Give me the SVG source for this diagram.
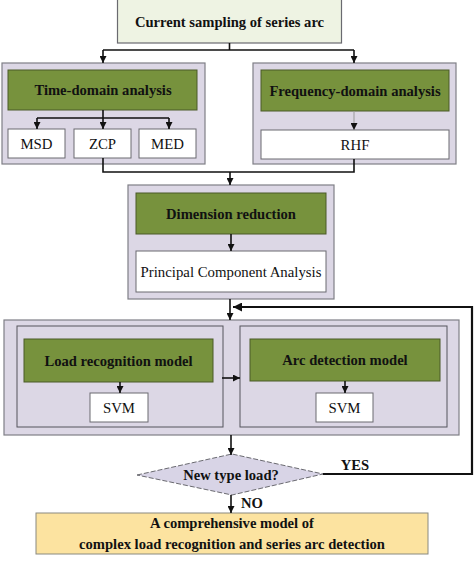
<svg xmlns="http://www.w3.org/2000/svg" width="474" height="579" viewBox="0 0 474 579">
<style>
.cont{fill:#dcd7e5;stroke:#7f7f86;stroke-width:1.2}
.inner{fill:#dcd7e5;stroke:#55555c;stroke-width:1}
.green{fill:#77923d;stroke:#4a5a28;stroke-width:1}
.white{fill:#ffffff;stroke:#6a6a70;stroke-width:1}
.tb{font-family:"Liberation Serif","Times New Roman",serif;font-weight:bold;font-size:14.6px;fill:#111;text-anchor:middle;dominant-baseline:central}
.tr{font-family:"Liberation Serif","Times New Roman",serif;font-size:14.8px;fill:#111;text-anchor:middle;dominant-baseline:central}
.ln{fill:none;stroke:#111;stroke-width:1.6}
.thick{fill:none;stroke:#111;stroke-width:2.2}
</style>
<defs>
<marker id="ah" viewBox="0 0 10 10" refX="10" refY="5" markerWidth="7" markerHeight="7" orient="auto" markerUnits="userSpaceOnUse">
<path d="M0,0 L10,5 L0,10 z" fill="#111"/>
</marker>
<marker id="ah2" viewBox="0 0 10 10" refX="10" refY="5" markerWidth="9" markerHeight="9" orient="auto" markerUnits="userSpaceOnUse">
<path d="M0,0 L10,5 L0,10 z" fill="#111"/>
</marker>
</defs>
<rect width="474" height="579" fill="#ffffff"/>

<g id="current-sampling">
<rect x="117.5" y="-1" width="224" height="44" fill="#eef3e3" stroke="#6a6a70" stroke-width="1.2"/>
<text class="tb" x="229.5" y="22">Current sampling of series arc</text>
</g>

<g id="time-domain">
<rect class="cont" x="2" y="63" width="203" height="101"/>
<rect class="green" x="8" y="70" width="189" height="40"/>
<text class="tb" x="103" y="90">Time-domain analysis</text>
</g>
<g id="msd"><rect class="white" x="8" y="129" width="57" height="29"/><text class="tr" x="36.5" y="143.5">MSD</text></g>
<g id="zcp"><rect class="white" x="74" y="129" width="57" height="29"/><text class="tr" x="102.5" y="143.5">ZCP</text></g>
<g id="med"><rect class="white" x="139" y="129" width="57" height="29"/><text class="tr" x="167.5" y="143.5">MED</text></g>

<g id="freq-domain">
<rect class="cont" x="253" y="63" width="203" height="101"/>
<rect class="green" x="261" y="70" width="188" height="41"/>
<text class="tb" x="355" y="91">Frequency-domain analysis</text>
</g>
<g id="rhf"><rect class="white" x="261" y="130" width="188" height="29"/><text class="tr" x="355" y="144.5">RHF</text></g>

<g id="dimension">
<rect class="cont" x="128" y="185" width="206" height="114"/>
<rect class="green" x="136" y="193" width="190" height="41"/>
<text class="tb" x="231" y="213.5">Dimension reduction</text>
</g>
<g id="pca"><rect class="white" x="136" y="251" width="190" height="41"/><text class="tr" x="231" y="272">Principal Component Analysis</text></g>

<g id="models">
<rect class="cont" x="4" y="320" width="455" height="115"/>
</g>
<g id="load-recognition">
<rect class="inner" x="17" y="326" width="206" height="101"/>
<rect class="green" x="24" y="339" width="189" height="43"/>
<text class="tb" x="118.5" y="360.5">Load recognition model</text>
</g>
<g id="svm1"><rect class="white" x="90" y="393" width="58" height="29"/><text class="tr" x="119" y="407.5">SVM</text></g>
<g id="arc-detection">
<rect class="inner" x="240" y="326" width="207" height="101"/>
<rect class="green" x="250" y="339" width="190" height="42"/>
<text class="tb" x="345" y="360">Arc detection model</text>
</g>
<g id="svm2"><rect class="white" x="316" y="393" width="57" height="29"/><text class="tr" x="344.5" y="407.5">SVM</text></g>

<g id="decision">
<polygon points="137,475 232,454 323,474 232,495" fill="#d8d4e6" stroke="#6a6a70" stroke-width="1" stroke-dasharray="5,2"/>
<text class="tb" x="231" y="475">New type load?</text>
</g>

<g id="final">
<rect x="36" y="513" width="392" height="41" fill="#fce3a0" stroke="#8a8a80" stroke-width="1"/>
<text class="tb" x="232" y="522.5">A comprehensive model of</text>
<text class="tb" x="232" y="544">complex load recognition and series arc detection</text>
</g>

<g id="connectors">
<path class="ln" d="M229.5,43 V50 M103,50 H354"/>
<path class="ln" d="M103,50 V63" marker-end="url(#ah)"/>
<path class="ln" d="M354,50 V63" marker-end="url(#ah)"/>
<path class="ln" d="M103,110 V118 M37,118 H169"/>
<path class="ln" d="M37,118 V129" marker-end="url(#ah)"/>
<path class="ln" d="M103,118 V129" marker-end="url(#ah)"/>
<path class="ln" d="M169,118 V129" marker-end="url(#ah)"/>
<path d="M354,111 V130" fill="none" stroke="#999" stroke-width="1" marker-end="url(#ah)"/>
<path class="ln" d="M103,158 V172 H354 V159"/>
<path class="ln" d="M230,172 V185" marker-end="url(#ah)"/>
<path class="ln" d="M231,234 V251" marker-end="url(#ah)"/>
<path class="ln" d="M230,299 V320" marker-end="url(#ah)"/>
<path class="ln" d="M120,382 V393" marker-end="url(#ah)"/>
<path class="ln" d="M345,381 V393" marker-end="url(#ah)"/>
<path class="ln" d="M222,378 H240" marker-end="url(#ah)"/>
<path class="ln" d="M231,435 V455" marker-end="url(#ah)"/>
<path class="ln" d="M231,495 V513" marker-end="url(#ah)"/>
<path class="thick" d="M323,474 H472 V307 H233" marker-end="url(#ah2)"/>
<text class="tb" x="355" y="465">YES</text>
<text class="tb" x="252" y="503">NO</text>
</g>
</svg>
